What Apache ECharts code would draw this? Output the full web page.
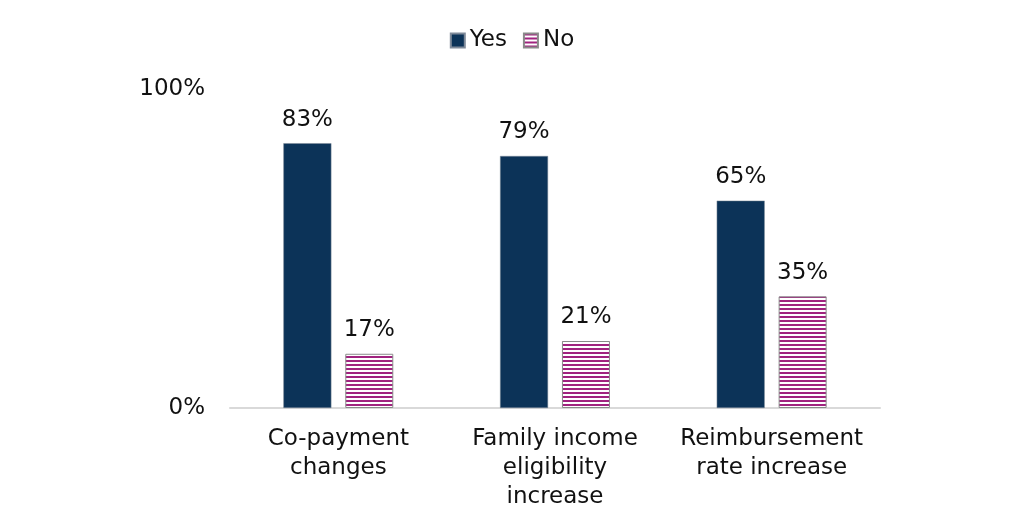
<!DOCTYPE html>
<html><head><meta charset="utf-8">
<script src="https://cdn.jsdelivr.net/npm/echarts@6/dist/echarts.min.js"></script>
<style>html,body{margin:0;padding:0;background:#fff}#c{width:1024px;height:512px}</style>
</head><body><div id="c"></div>
<script>
const categories = ['Co-payment\nchanges', 'Family income\neligibility\nincrease', 'Reimbursement\nrate increase'];
const yesValues = [83, 79, 65];
const noValues = [17, 21, 35];
const yTicks = ['0%', '100%'];

const cv = document.createElement('canvas');
cv.width = 4; cv.height = 4;
const ctx = cv.getContext('2d');
ctx.fillStyle = '#ffffff'; ctx.fillRect(0, 0, 4, 4);
ctx.fillStyle = '#a0237f'; ctx.fillRect(0, 0, 4, 2);

const font = '"DejaVu Sans", "Noto Sans", sans-serif';
const chart = echarts.init(document.getElementById('c'));
chart.setOption({
  animation: false,
  textStyle: {fontFamily: font},
  legend: {
    top: 24, left: 'center', itemWidth: 14, itemHeight: 14, itemGap: 16, icon: 'rect',
    textStyle: {fontSize: 23, color: '#111', fontFamily: font},
    data: ['Yes', 'No']
  },
  grid: {left: 230, right: 144, top: 89, bottom: 97},
  xAxis: {
    type: 'category', data: categories,
    axisLine: {lineStyle: {color: '#d9d9d9', width: 2}},
    axisTick: {show: false},
    axisLabel: {fontSize: 23, color: '#111', lineHeight: 29, margin: 17, fontFamily: font, interval: 0}
  },
  yAxis: {
    type: 'value', min: 0, max: 100, interval: 100,
    splitLine: {show: false},
    axisLine: {show: false}, axisTick: {show: false},
    axisLabel: {fontSize: 23, color: '#111', margin: 25, fontFamily: font,
      formatter: v => yTicks[v === 0 ? 0 : 1]}
  },
  series: [
    {name: 'Yes', type: 'bar', data: yesValues, barWidth: 48, barGap: '29%',
      itemStyle: {color: '#0c3358', borderColor: '#7f8a99', borderWidth: 0.5},
      label: {show: true, position: 'top', distance: 12, fontSize: 23, color: '#111', formatter: '{c}%', fontFamily: font}},
    {name: 'No', type: 'bar', data: noValues, barWidth: 48,
      itemStyle: {color: {image: cv, repeat: 'repeat'}, borderColor: '#8a8a8a', borderWidth: 1},
      label: {show: true, position: 'top', distance: 12, fontSize: 23, color: '#111', formatter: '{c}%', fontFamily: font}}
  ]
});
</script></body></html>
